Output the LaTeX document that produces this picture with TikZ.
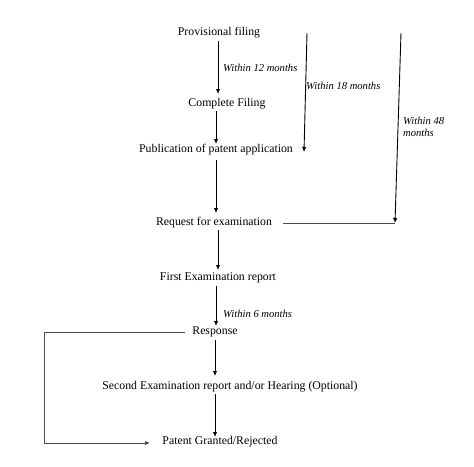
\documentclass[tikz,border=0pt]{standalone}
\usepackage{fontspec}
\setmainfont{Liberation Serif}
\usetikzlibrary{arrows.meta}
\begin{document}
\begin{tikzpicture}[x=1pt,y=-1pt,
  lbl/.style={inner sep=1pt,font=\fontsize{11.8}{13}\selectfont},
  note/.style={inner sep=0pt,font=\fontsize{10.6}{12}\selectfont\itshape,anchor=west,align=left},
  arr/.style={line width=0.9pt,-{Latex[length=5pt,width=4.5pt]}},
  gline/.style={line width=0.9pt,draw=black!70}]
\useasboundingbox (0,0) rectangle (474,466);
\node[lbl] (prov) at (219,33) {Provisional filing};
\node[lbl] (comp) at (227,104) {Complete Filing};
\node[lbl] (pub) at (216,150) {Publication of patent application};
\node[lbl] (req) at (214,223) {Request for examination};
\node[lbl] (fer) at (218,278) {First Examination report};
\node[lbl] (resp) at (215,332) {Response};
\node[lbl] (ser) at (230,387) {Second Examination report and/or Hearing (Optional)};
\node[lbl] (pgr) at (220,442) {Patent Granted/Rejected};

\node[note] (n12) at (223,68) {Within 12 months};
\node[note] (n18) at (306,86) {Within 18 months};
\node[note] (n48) at (403,127) {Within 48\\months};
\node[note] (n6) at (223,314) {Within 6 months};

\coordinate (a18s) at (307,33);
\coordinate (a18e) at (304,152);
\coordinate (a48s) at (401,33);
\coordinate (a48e) at (395,223);
\coordinate (rl) at (283,223);
\coordinate (fb1) at (44,332);
\coordinate (fb2) at (44,443);
\coordinate (fbs) at (185,332);

\draw[arr] (218,41) -- (218,94);
\draw[arr] (216,111) -- (216,144);
\draw[arr] (216,160) -- (216,213);
\draw[arr] (218,230) -- (218,270);
\draw[arr] (216,286) -- (216,326);
\draw[arr] (215,340) -- (215,376);
\draw[arr] (215,394) -- (215,437);
\draw[arr] (a18s) -- (a18e);
\draw[arr] (a48s) -- (a48e);
\draw[gline] (rl) -- (a48e);
\draw[gline,-{Latex[length=5pt,width=4.5pt]}] (fbs) -- (fb1) -- (fb2) -- (150,443);
\end{tikzpicture}
\end{document}
